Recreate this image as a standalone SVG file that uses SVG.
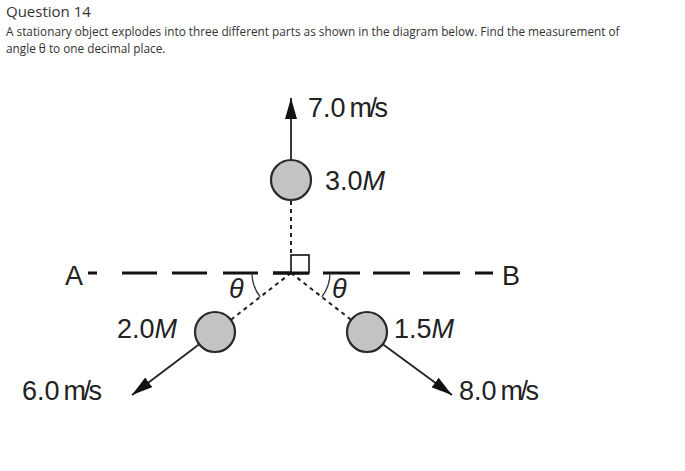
<svg xmlns="http://www.w3.org/2000/svg" width="685" height="471" viewBox="0 0 685 471">
<style>
.hd{font-family:"Open Sans",sans-serif;fill:#333}
.lb{font-family:"Liberation Sans",Arial,sans-serif;fill:#222;font-size:27px}
.it{font-style:italic}
.ms{letter-spacing:-2.5px}
.ball{fill:#c3c3c3;stroke:#2a2a2a;stroke-width:2.2}
.sol{stroke:#222;stroke-width:1.8;fill:none}
.dsh{stroke:#222;stroke-width:2;fill:none;stroke-dasharray:4 4}
.hl{stroke:#111;stroke-width:2.8;fill:none}
.arc{stroke:#333;stroke-width:1.3;fill:none}
</style>
<defs>
<marker id="ah" viewBox="0 0 21 12" refX="21" refY="6" markerWidth="21" markerHeight="12" markerUnits="userSpaceOnUse" orient="auto">
<path d="M0,0 L21,6 L0,12 Z" fill="#111"/>
</marker>
</defs>
<rect width="685" height="471" fill="#fff"/>
<text class="hd" x="6" y="17" font-size="15">Question 14</text>
<text class="hd" x="6" y="36" font-size="11.8">A stationary object explodes into three different parts as shown in the diagram below. Find the measurement of</text>
<text class="hd" x="6" y="52.5" font-size="11.8">angle θ to one decimal place.</text>

<g id="connectors">
<path class="hl" d="M88,273H97 M122,273H157 M172,273H207 M223,273H258 M273,273H309 M323,273H360 M373,273H410 M423,273H460 M475,273H493"/>
<path class="dsh" d="M291,201V255"/>
<path class="dsh" d="M291,273L231,319.7"/>
<path class="dsh" d="M291,273L351,319.7"/>
<path class="sol" d="M291,160V98" marker-end="url(#ah)"/>
<path class="sol" d="M199.2,344.3L132,395" marker-end="url(#ah)"/>
<path class="sol" d="M382.8,344.3L452,395" marker-end="url(#ah)"/>
<path class="arc" d="M252,273A39,39 0 0 0 260.2,296.9"/>
<path class="arc" d="M330,273A39,39 0 0 1 321.8,296.9"/>
</g>

<g id="origin">
<rect x="291" y="255" width="18" height="18" fill="#fff" stroke="#111" stroke-width="1.6"/>
<path class="hl" d="M273,273H309"/>
</g>

<g id="ball-top">
<circle class="ball" cx="291" cy="180" r="20"/>
<text class="lb" x="308" y="117">7.0<tspan class="ms" dx="4">m/s</tspan></text>
<text class="lb" x="325" y="190">3.0<tspan class="it">M</tspan></text>
</g>

<g id="ball-left">
<circle class="ball" cx="215" cy="332" r="20"/>
<text class="lb" x="117" y="338">2.0<tspan class="it">M</tspan></text>
<text class="lb" x="22" y="400">6.0<tspan class="ms" dx="4">m/s</tspan></text>
</g>

<g id="ball-right">
<circle class="ball" cx="367" cy="332" r="20"/>
<text class="lb" x="394" y="338">1.5<tspan class="it">M</tspan></text>
<text class="lb" x="459" y="400">8.0<tspan class="ms" dx="4">m/s</tspan></text>
</g>

<g id="labels">
<text class="lb" x="65" y="285" font-size="25">A</text>
<text class="lb" x="502" y="285" font-size="25">B</text>
<text class="lb it" x="229" y="298" font-size="22">θ</text>
<text class="lb it" x="332" y="298" font-size="22">θ</text>
</g>
</svg>
